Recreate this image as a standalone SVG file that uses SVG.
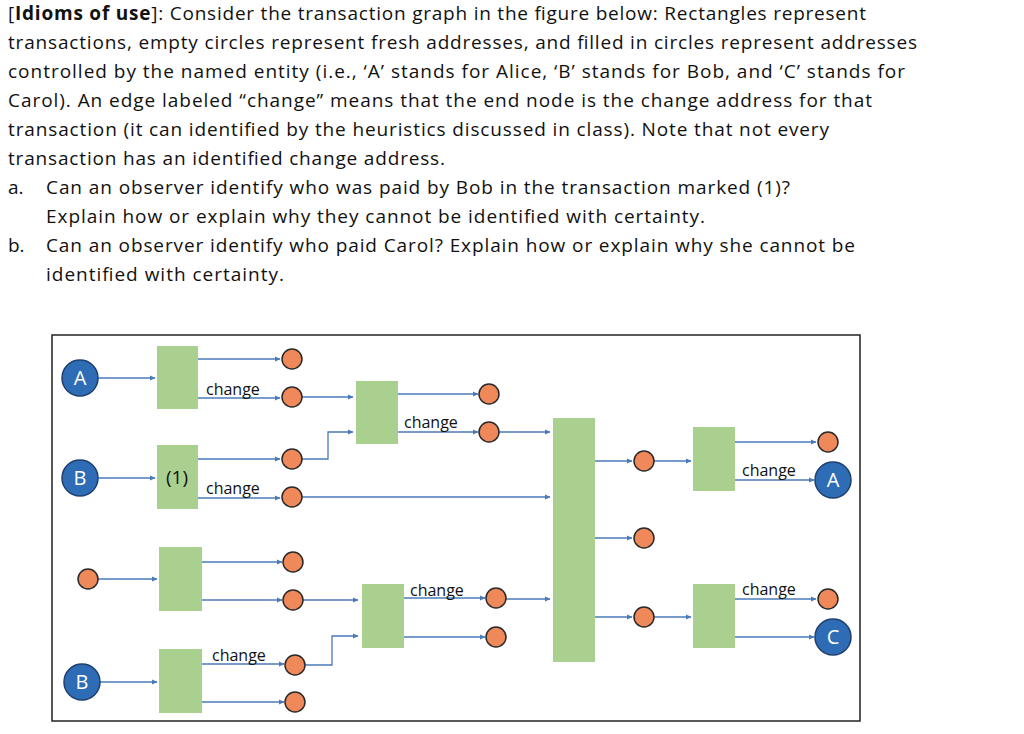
<svg xmlns="http://www.w3.org/2000/svg" width="1024" height="734" viewBox="0 0 1024 734">
<style>
.t{font-family:"Open Sans","Liberation Sans",sans-serif;font-size:19px;fill:#111}
.tx{fill:#a9d08e}
.o{fill:#f0895a;stroke:#2a2a2a;stroke-width:1.5}
.b{fill:#2e6cb5;stroke:#1f3f6e;stroke-width:1.5}
.bl{font-family:"Open Sans","Liberation Sans",sans-serif;font-size:20px;fill:#fff;text-anchor:middle}
.lb{font-family:"Open Sans","Liberation Sans",sans-serif;font-size:16px;fill:#111}
.c path{fill:none;stroke:#4a7ab8;stroke-width:1.3;marker-end:url(#ar)}
</style>
<defs><marker id="ar" markerWidth="6" markerHeight="6" refX="5" refY="3" orient="auto" markerUnits="userSpaceOnUse"><path d="M0,0.5 L5.5,3 L0,5.5z" fill="#4a7ab8"/></marker></defs>
<rect width="1024" height="734" fill="#fff"/>
<g class="t">
<text x="8" y="20" textLength="858">[<tspan font-weight="bold">Idioms of use</tspan>]: Consider the transaction graph in the figure below: Rectangles represent</text>
<text x="8" y="49" textLength="909">transactions, empty circles represent fresh addresses, and filled in circles represent addresses</text>
<text x="8" y="78" textLength="897">controlled by the named entity (i.e., ‘A’ stands for Alice, ‘B’ stands for Bob, and ‘C’ stands for</text>
<text x="8" y="107" textLength="864">Carol). An edge labeled “change” means that the end node is the change address for that</text>
<text x="8" y="136" textLength="821">transaction (it can identified by the heuristics discussed in class). Note that not every</text>
<text x="8" y="165" textLength="437">transaction has an identified change address.</text>
<text x="8" y="194">a.</text>
<text x="46" y="194" textLength="744">Can an observer identify who was paid by Bob in the transaction marked (1)?</text>
<text x="46" y="223" textLength="659">Explain how or explain why they cannot be identified with certainty.</text>
<text x="8" y="252">b.</text>
<text x="46" y="252" textLength="809">Can an observer identify who paid Carol? Explain how or explain why she cannot be</text>
<text x="46" y="281" textLength="238">identified with certainty.</text>
</g>
<rect x="52" y="335" width="808" height="386" fill="none" stroke="#222" stroke-width="1.5"/>
<g class="c" id="connectors">
<path d="M98,378H155"/><path d="M198,359H280"/><path d="M198,398H280"/>
<path d="M302,397H353"/><path d="M398,394H478"/><path d="M398,432H478"/><path d="M499,432H550"/>
<path d="M98,478H155"/><path d="M198,459H280"/><path d="M198,498H280"/>
<path d="M302,459H328V432H353"/><path d="M302,497H550"/>
<path d="M98,579H157"/><path d="M202,562H282"/><path d="M202,600H282"/><path d="M303,600H358"/>
<path d="M404,598H485"/><path d="M404,637H485"/><path d="M506,599H550"/>
<path d="M100,682H157"/><path d="M202,664H284"/><path d="M202,702H284"/><path d="M305,665H332V636H358"/>
<path d="M595,461H632"/><path d="M595,538H632"/><path d="M595,617H632"/>
<path d="M654,461H691"/><path d="M654,617H691"/>
<path d="M735,442H816"/><path d="M735,480H814"/><path d="M735,599H816"/><path d="M735,637H814"/>
</g>
<g id="tx1"><rect class="tx" x="157" y="346" width="41" height="63"/></g>
<g id="tx2"><rect class="tx" x="356" y="381" width="42" height="63"/></g>
<g id="tx-1"><rect class="tx" x="157" y="445" width="41" height="64"/><text class="t" x="177" y="484" text-anchor="middle" font-size="20">(1)</text></g>
<g id="tx3"><rect class="tx" x="159" y="547" width="43" height="64"/></g>
<g id="tx4"><rect class="tx" x="362" y="584" width="42" height="64"/></g>
<g id="tx5"><rect class="tx" x="159" y="649" width="43" height="64"/></g>
<g id="txbig"><rect class="tx" x="553" y="418" width="42" height="244"/></g>
<g id="tx6"><rect class="tx" x="693" y="427" width="42" height="64"/></g>
<g id="tx7"><rect class="tx" x="693" y="584" width="42" height="64"/></g>
<g id="labels" class="lb">
<text x="206" y="395">change</text><text x="404" y="428">change</text><text x="206" y="494">change</text>
<text x="410" y="596">change</text><text x="212" y="661">change</text>
<text x="742" y="476">change</text><text x="742" y="595">change</text>
</g>
<g id="A1"><circle class="b" cx="80" cy="378" r="18"/><text class="bl" x="80" y="385">A</text></g>
<g id="B1"><circle class="b" cx="80" cy="478" r="18"/><text class="bl" x="80" y="485">B</text></g>
<g id="B2"><circle class="b" cx="82" cy="682" r="18"/><text class="bl" x="82" y="689">B</text></g>
<g id="A2"><circle class="b" cx="833" cy="480" r="18"/><text class="bl" x="833" y="487">A</text></g>
<g id="C"><circle class="b" cx="833" cy="637" r="18"/><text class="bl" x="833" y="644">C</text></g>
<g id="addrs">
<circle class="o" cx="292" cy="359" r="10"/><circle class="o" cx="292" cy="397" r="10"/>
<circle class="o" cx="489" cy="394" r="10"/><circle class="o" cx="489" cy="432" r="10"/>
<circle class="o" cx="292" cy="459" r="10"/><circle class="o" cx="292" cy="497" r="10"/>
<circle class="o" cx="88" cy="579" r="10"/>
<circle class="o" cx="293" cy="562" r="10"/><circle class="o" cx="293" cy="600" r="10"/>
<circle class="o" cx="496" cy="598" r="10"/><circle class="o" cx="496" cy="637" r="10"/>
<circle class="o" cx="295" cy="665" r="10"/><circle class="o" cx="295" cy="702" r="10"/>
<circle class="o" cx="644" cy="461" r="10"/><circle class="o" cx="644" cy="538" r="10"/><circle class="o" cx="644" cy="617" r="10"/>
<circle class="o" cx="828" cy="442" r="10"/><circle class="o" cx="828" cy="599" r="10"/>
</g>
</svg>
